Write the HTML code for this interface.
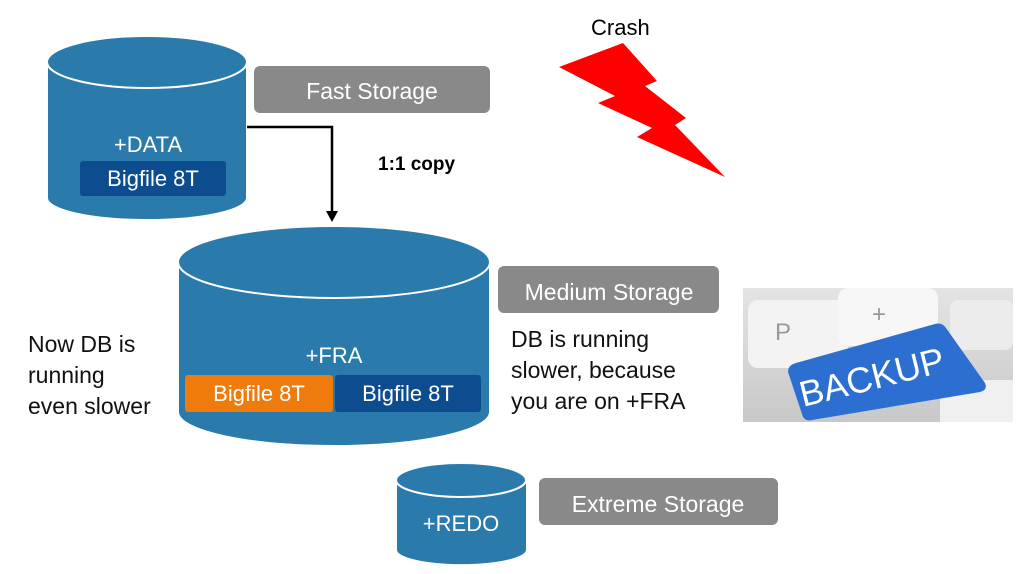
<!DOCTYPE html>
<html><head><style>body{margin:0;background:#fff}svg{display:block}</style></head><body>
<svg width="1027" height="574" xmlns="http://www.w3.org/2000/svg" font-family="'Liberation Sans',sans-serif">
<defs><linearGradient id="k" x1="0" y1="0" x2="0" y2="1"><stop offset="0" stop-color="#e4e4e4"/><stop offset="1" stop-color="#c8c8c8"/></linearGradient></defs>
<g fill="#2a7bab" stroke="#fff" stroke-width="2">
<path d="M47 62 V198 A100 22 0 0 0 247 198 V62"/>
<ellipse cx="147" cy="62" rx="100" ry="26"/>
<path d="M178 262 V412 A156 34 0 0 0 490 412 V262"/>
<ellipse cx="334" cy="262" rx="156" ry="36"/>
<path d="M396 480 V550 A65 15 0 0 0 527 550 V480"/>
<ellipse cx="461" cy="480" rx="65" ry="17"/>
</g>
<g fill="#fff" font-size="22" text-anchor="middle">
<text x="148" y="152">+DATA</text>
<text x="334" y="363">+FRA</text>
<text x="461" y="531">+REDO</text>
</g>
<rect x="80" y="161" width="146" height="35" rx="3" fill="#0d4c8f"/>
<text x="153" y="186" fill="#fff" font-size="22" text-anchor="middle">Bigfile 8T</text>
<rect x="185" y="375" width="148" height="37" rx="3" fill="#ee7b0c"/>
<text x="259" y="401" fill="#fff" font-size="22" text-anchor="middle">Bigfile 8T</text>
<rect x="335" y="375" width="146" height="37" rx="3" fill="#0d4c8f"/>
<text x="408" y="401" fill="#fff" font-size="22" text-anchor="middle">Bigfile 8T</text>
<g fill="#898989"><rect x="254" y="66" width="236" height="47" rx="6"/><rect x="498" y="266" width="221" height="47" rx="6"/><rect x="539" y="478" width="239" height="47" rx="6"/></g>
<g fill="#fff" font-size="23" text-anchor="middle"><text x="372" y="99">Fast Storage</text><text x="609" y="300">Medium Storage</text><text x="658" y="512">Extreme Storage</text></g>
<path d="M247 127 H332 V214" fill="none" stroke="#000" stroke-width="2.5"/>
<path d="M326 211 L332 222 L338 211 Z" fill="#000"/>
<text x="378" y="170" font-size="19" font-weight="bold">1:1 copy</text>
<text x="591" y="35" font-size="22">Crash</text>
<polygon points="559,67 623,43 657,81 645,86 686,118 675,125 725,177 637,137 652,128 598,103 615,96" fill="#f00"/>
<g font-size="23" fill="#111"><text x="28" y="352">Now DB is</text><text x="28" y="383">running</text><text x="28" y="414">even slower</text>
<text x="511" y="347">DB is running</text><text x="511" y="378">slower, because</text><text x="511" y="409">you are on +FRA</text></g>
<rect x="743" y="288" width="270" height="134" fill="url(#k)"/>
<rect x="748" y="300" width="100" height="68" rx="10" fill="#f3f3f3"/>
<rect x="838" y="288" width="100" height="58" rx="10" fill="#f7f7f7"/>
<rect x="950" y="300" width="63" height="50" rx="8" fill="#ececec"/>
<rect x="940" y="380" width="73" height="42" fill="#f0f0f0"/>
<text x="775" y="340" font-size="24" fill="#999">P</text>
<text x="872" y="322" font-size="24" fill="#999">+</text>
<path d="M788 372 Q788 365 796 363 L935 324 Q942 322 946 328 L985 383 Q988 390 980 392 L812 420 Q804 422 802 414 Z" fill="#2d6fd0"/>
<text x="803" y="407" font-size="36" fill="#fff" transform="rotate(-14 803 407)">BACKUP</text>
</svg>
</body></html>
